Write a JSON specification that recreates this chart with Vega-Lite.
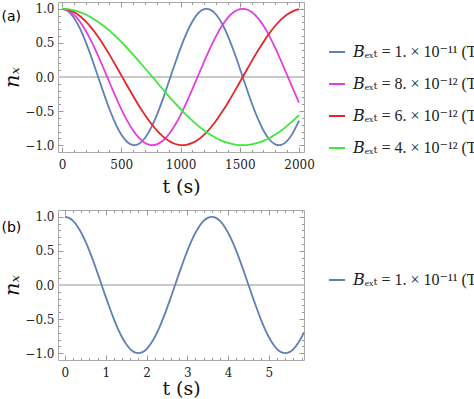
{
"$schema": "https://vega.github.io/schema/vega-lite/v6.json",
"padding": {"left": 0, "top": 1, "right": 0, "bottom": 0},
"background": "white",
"spacing": 12,
"config": {
 "font": "DejaVu Serif",
 "view": {"stroke": "#aaaaaa", "strokeWidth": 1},
 "axis": {"grid": false, "domain": false, "labelFont": "DejaVu Serif", "labelFontSize": 12, "labelColor": "#222222", "titleFont": "DejaVu Serif", "titleColor": "#111111", "titleFontWeight": "normal", "tickColor": "#999999", "tickWidth": 1},
 "legend": {"orient": "none", "title": null, "padding": 0, "symbolType": "stroke", "symbolStrokeWidth": 2, "symbolSize": 256, "labelFont": "Times New Roman, Liberation Serif, DejaVu Serif, serif", "labelFontSize": 16, "labelColor": "#222222", "labelLimit": 0, "rowPadding": 15, "labelOffset": 7}
},
"resolve": {"scale": {"color": "independent", "x": "independent", "y": "independent"}, "legend": {"color": "independent"}},
"datasets": {
 "a": [
  {"t":0,"n":1,"s":"1e-11"},{"t":50,"n":0.9670,"s":"1e-11"},{"t":100,"n":0.8703,"s":"1e-11"},{"t":150,"n":0.7161,"s":"1e-11"},{"t":200,"n":0.5148,"s":"1e-11"},{"t":250,"n":0.2795,"s":"1e-11"},{"t":300,"n":0.0257,"s":"1e-11"},{"t":350,"n":-0.2297,"s":"1e-11"},{"t":400,"n":-0.4700,"s":"1e-11"},{"t":450,"n":-0.6793,"s":"1e-11"},{"t":500,"n":-0.8438,"s":"1e-11"},{"t":550,"n":-0.9527,"s":"1e-11"},{"t":600,"n":-0.9987,"s":"1e-11"},{"t":650,"n":-0.9788,"s":"1e-11"},{"t":700,"n":-0.8945,"s":"1e-11"},{"t":750,"n":-0.7511,"s":"1e-11"},{"t":800,"n":-0.5582,"s":"1e-11"},{"t":850,"n":-0.3286,"s":"1e-11"},{"t":900,"n":-0.0772,"s":"1e-11"},{"t":950,"n":0.1793,"s":"1e-11"},{"t":1000,"n":0.4239,"s":"1e-11"},{"t":1050,"n":0.6406,"s":"1e-11"},{"t":1100,"n":0.8151,"s":"1e-11"},{"t":1150,"n":0.9358,"s":"1e-11"},{"t":1200,"n":0.9947,"s":"1e-11"},{"t":1250,"n":0.9881,"s":"1e-11"},{"t":1300,"n":0.9163,"s":"1e-11"},{"t":1350,"n":0.7841,"s":"1e-11"},{"t":1400,"n":0.6002,"s":"1e-11"},{"t":1450,"n":0.3767,"s":"1e-11"},{"t":1500,"n":0.1284,"s":"1e-11"},{"t":1550,"n":-0.1284,"s":"1e-11"},{"t":1600,"n":-0.3767,"s":"1e-11"},{"t":1650,"n":-0.6002,"s":"1e-11"},{"t":1700,"n":-0.7841,"s":"1e-11"},{"t":1750,"n":-0.9163,"s":"1e-11"},{"t":1800,"n":-0.9881,"s":"1e-11"},{"t":1850,"n":-0.9947,"s":"1e-11"},{"t":1900,"n":-0.9358,"s":"1e-11"},{"t":1950,"n":-0.8151,"s":"1e-11"},{"t":2000,"n":-0.6406,"s":"1e-11"},
  {"t":0,"n":1,"s":"8e-12"},{"t":50,"n":0.9788,"s":"8e-12"},{"t":100,"n":0.9163,"s":"8e-12"},{"t":150,"n":0.8151,"s":"8e-12"},{"t":200,"n":0.6793,"s":"8e-12"},{"t":250,"n":0.5148,"s":"8e-12"},{"t":300,"n":0.3286,"s":"8e-12"},{"t":350,"n":0.1284,"s":"8e-12"},{"t":400,"n":-0.0772,"s":"8e-12"},{"t":450,"n":-0.2795,"s":"8e-12"},{"t":500,"n":-0.4700,"s":"8e-12"},{"t":550,"n":-0.6406,"s":"8e-12"},{"t":600,"n":-0.7841,"s":"8e-12"},{"t":650,"n":-0.8945,"s":"8e-12"},{"t":700,"n":-0.9670,"s":"8e-12"},{"t":750,"n":-0.9987,"s":"8e-12"},{"t":800,"n":-0.9881,"s":"8e-12"},{"t":850,"n":-0.9358,"s":"8e-12"},{"t":900,"n":-0.8438,"s":"8e-12"},{"t":950,"n":-0.7161,"s":"8e-12"},{"t":1000,"n":-0.5582,"s":"8e-12"},{"t":1050,"n":-0.3767,"s":"8e-12"},{"t":1100,"n":-0.1793,"s":"8e-12"},{"t":1150,"n":0.0257,"s":"8e-12"},{"t":1200,"n":0.2297,"s":"8e-12"},{"t":1250,"n":0.4239,"s":"8e-12"},{"t":1300,"n":0.6002,"s":"8e-12"},{"t":1350,"n":0.7511,"s":"8e-12"},{"t":1400,"n":0.8703,"s":"8e-12"},{"t":1450,"n":0.9527,"s":"8e-12"},{"t":1500,"n":0.9947,"s":"8e-12"},{"t":1550,"n":0.9947,"s":"8e-12"},{"t":1600,"n":0.9527,"s":"8e-12"},{"t":1650,"n":0.8703,"s":"8e-12"},{"t":1700,"n":0.7511,"s":"8e-12"},{"t":1750,"n":0.6002,"s":"8e-12"},{"t":1800,"n":0.4239,"s":"8e-12"},{"t":1850,"n":0.2297,"s":"8e-12"},{"t":1900,"n":0.0257,"s":"8e-12"},{"t":1950,"n":-0.1793,"s":"8e-12"},{"t":2000,"n":-0.3767,"s":"8e-12"},
  {"t":0,"n":1,"s":"6e-12"},{"t":50,"n":0.9881,"s":"6e-12"},{"t":100,"n":0.9527,"s":"6e-12"},{"t":150,"n":0.8945,"s":"6e-12"},{"t":200,"n":0.8151,"s":"6e-12"},{"t":250,"n":0.7161,"s":"6e-12"},{"t":300,"n":0.6002,"s":"6e-12"},{"t":350,"n":0.4700,"s":"6e-12"},{"t":400,"n":0.3286,"s":"6e-12"},{"t":450,"n":0.1793,"s":"6e-12"},{"t":500,"n":0.0257,"s":"6e-12"},{"t":550,"n":-0.1284,"s":"6e-12"},{"t":600,"n":-0.2795,"s":"6e-12"},{"t":650,"n":-0.4239,"s":"6e-12"},{"t":700,"n":-0.5582,"s":"6e-12"},{"t":750,"n":-0.6793,"s":"6e-12"},{"t":800,"n":-0.7841,"s":"6e-12"},{"t":850,"n":-0.8703,"s":"6e-12"},{"t":900,"n":-0.9358,"s":"6e-12"},{"t":950,"n":-0.9788,"s":"6e-12"},{"t":1000,"n":-0.9987,"s":"6e-12"},{"t":1050,"n":-0.9947,"s":"6e-12"},{"t":1100,"n":-0.9670,"s":"6e-12"},{"t":1150,"n":-0.9163,"s":"6e-12"},{"t":1200,"n":-0.8438,"s":"6e-12"},{"t":1250,"n":-0.7511,"s":"6e-12"},{"t":1300,"n":-0.6406,"s":"6e-12"},{"t":1350,"n":-0.5148,"s":"6e-12"},{"t":1400,"n":-0.3767,"s":"6e-12"},{"t":1450,"n":-0.2297,"s":"6e-12"},{"t":1500,"n":-0.0772,"s":"6e-12"},{"t":1550,"n":0.0772,"s":"6e-12"},{"t":1600,"n":0.2297,"s":"6e-12"},{"t":1650,"n":0.3767,"s":"6e-12"},{"t":1700,"n":0.5148,"s":"6e-12"},{"t":1750,"n":0.6406,"s":"6e-12"},{"t":1800,"n":0.7511,"s":"6e-12"},{"t":1850,"n":0.8438,"s":"6e-12"},{"t":1900,"n":0.9163,"s":"6e-12"},{"t":1950,"n":0.9670,"s":"6e-12"},{"t":2000,"n":0.9947,"s":"6e-12"},
  {"t":0,"n":1,"s":"4e-12"},{"t":50,"n":0.9947,"s":"4e-12"},{"t":100,"n":0.9788,"s":"4e-12"},{"t":150,"n":0.9527,"s":"4e-12"},{"t":200,"n":0.9163,"s":"4e-12"},{"t":250,"n":0.8703,"s":"4e-12"},{"t":300,"n":0.8151,"s":"4e-12"},{"t":350,"n":0.7511,"s":"4e-12"},{"t":400,"n":0.6793,"s":"4e-12"},{"t":450,"n":0.6002,"s":"4e-12"},{"t":500,"n":0.5148,"s":"4e-12"},{"t":550,"n":0.4239,"s":"4e-12"},{"t":600,"n":0.3286,"s":"4e-12"},{"t":650,"n":0.2297,"s":"4e-12"},{"t":700,"n":0.1284,"s":"4e-12"},{"t":750,"n":0.0257,"s":"4e-12"},{"t":800,"n":-0.0772,"s":"4e-12"},{"t":850,"n":-0.1793,"s":"4e-12"},{"t":900,"n":-0.2795,"s":"4e-12"},{"t":950,"n":-0.3767,"s":"4e-12"},{"t":1000,"n":-0.4700,"s":"4e-12"},{"t":1050,"n":-0.5582,"s":"4e-12"},{"t":1100,"n":-0.6406,"s":"4e-12"},{"t":1150,"n":-0.7161,"s":"4e-12"},{"t":1200,"n":-0.7841,"s":"4e-12"},{"t":1250,"n":-0.8438,"s":"4e-12"},{"t":1300,"n":-0.8945,"s":"4e-12"},{"t":1350,"n":-0.9358,"s":"4e-12"},{"t":1400,"n":-0.9670,"s":"4e-12"},{"t":1450,"n":-0.9881,"s":"4e-12"},{"t":1500,"n":-0.9987,"s":"4e-12"},{"t":1550,"n":-0.9987,"s":"4e-12"},{"t":1600,"n":-0.9881,"s":"4e-12"},{"t":1650,"n":-0.9670,"s":"4e-12"},{"t":1700,"n":-0.9358,"s":"4e-12"},{"t":1750,"n":-0.8945,"s":"4e-12"},{"t":1800,"n":-0.8438,"s":"4e-12"},{"t":1850,"n":-0.7841,"s":"4e-12"},{"t":1900,"n":-0.7161,"s":"4e-12"},{"t":1950,"n":-0.6406,"s":"4e-12"},{"t":2000,"n":-0.5582,"s":"4e-12"}
 ],
 "b": [
  {"t":0,"n":1,"s":"1e-11"},{"t":0.1,"n":0.9848,"s":"1e-11"},{"t":0.2,"n":0.9397,"s":"1e-11"},{"t":0.3,"n":0.8660,"s":"1e-11"},{"t":0.4,"n":0.7660,"s":"1e-11"},{"t":0.5,"n":0.6428,"s":"1e-11"},{"t":0.6,"n":0.5,"s":"1e-11"},{"t":0.7,"n":0.3420,"s":"1e-11"},{"t":0.8,"n":0.1736,"s":"1e-11"},{"t":0.9,"n":0,"s":"1e-11"},{"t":1.0,"n":-0.1736,"s":"1e-11"},{"t":1.1,"n":-0.3420,"s":"1e-11"},{"t":1.2,"n":-0.5,"s":"1e-11"},{"t":1.3,"n":-0.6428,"s":"1e-11"},{"t":1.4,"n":-0.7660,"s":"1e-11"},{"t":1.5,"n":-0.8660,"s":"1e-11"},{"t":1.6,"n":-0.9397,"s":"1e-11"},{"t":1.7,"n":-0.9848,"s":"1e-11"},{"t":1.8,"n":-1,"s":"1e-11"},{"t":1.9,"n":-0.9848,"s":"1e-11"},{"t":2.0,"n":-0.9397,"s":"1e-11"},{"t":2.1,"n":-0.8660,"s":"1e-11"},{"t":2.2,"n":-0.7660,"s":"1e-11"},{"t":2.3,"n":-0.6428,"s":"1e-11"},{"t":2.4,"n":-0.5,"s":"1e-11"},{"t":2.5,"n":-0.3420,"s":"1e-11"},{"t":2.6,"n":-0.1736,"s":"1e-11"},{"t":2.7,"n":0,"s":"1e-11"},{"t":2.8,"n":0.1736,"s":"1e-11"},{"t":2.9,"n":0.3420,"s":"1e-11"},{"t":3.0,"n":0.5,"s":"1e-11"},{"t":3.1,"n":0.6428,"s":"1e-11"},{"t":3.2,"n":0.7660,"s":"1e-11"},{"t":3.3,"n":0.8660,"s":"1e-11"},{"t":3.4,"n":0.9397,"s":"1e-11"},{"t":3.5,"n":0.9848,"s":"1e-11"},{"t":3.6,"n":1,"s":"1e-11"},{"t":3.7,"n":0.9848,"s":"1e-11"},{"t":3.8,"n":0.9397,"s":"1e-11"},{"t":3.9,"n":0.8660,"s":"1e-11"},{"t":4.0,"n":0.7660,"s":"1e-11"},{"t":4.1,"n":0.6428,"s":"1e-11"},{"t":4.2,"n":0.5,"s":"1e-11"},{"t":4.3,"n":0.3420,"s":"1e-11"},{"t":4.4,"n":0.1736,"s":"1e-11"},{"t":4.5,"n":0,"s":"1e-11"},{"t":4.6,"n":-0.1736,"s":"1e-11"},{"t":4.7,"n":-0.3420,"s":"1e-11"},{"t":4.8,"n":-0.5,"s":"1e-11"},{"t":4.9,"n":-0.6428,"s":"1e-11"},{"t":5.0,"n":-0.7660,"s":"1e-11"},{"t":5.1,"n":-0.8660,"s":"1e-11"},{"t":5.2,"n":-0.9397,"s":"1e-11"},{"t":5.3,"n":-0.9848,"s":"1e-11"},{"t":5.4,"n":-1,"s":"1e-11"},{"t":5.5,"n":-0.9848,"s":"1e-11"},{"t":5.6,"n":-0.9397,"s":"1e-11"},{"t":5.7,"n":-0.8660,"s":"1e-11"},{"t":5.8,"n":-0.7660,"s":"1e-11"},{"t":5.86,"n":-0.6947,"s":"1e-11"}
 ]
},
"vconcat": [
 {
  "width": 246, "height": 150,
  "data": {"name": "a"},
  "resolve": {"axis": {"x": "independent", "y": "independent"}},
  "layer": [
   {"mark": {"type": "rule", "color": "#c8c8c8", "strokeWidth": 1.2},
    "encoding": {"y": {"datum": 0, "type": "quantitative", "scale": {"domain": [-1.1, 1.1], "nice": false, "zero": false},
      "axis": {"orient": "left", "values": [-1, -0.5, 0, 0.5, 1], "format": ".1f", "ticks": false, "labelPadding": 4, "labelFontSize": 12, "title": "nₓ", "titleFontStyle": "italic", "titleFontSize": 21, "titlePadding": 2}}}},
   {"mark": {"type": "line", "interpolate": "natural", "strokeWidth": 1.8},
    "encoding": {
     "x": {"field": "t", "type": "quantitative", "scale": {"domain": [-34, 2042], "nice": false, "zero": false},
       "axis": {"orient": "bottom", "values": [0, 500, 1000, 1500, 2000], "format": "d", "ticks": false, "labelPadding": 7, "labelFontSize": 12, "title": "t (s)", "titleFontSize": 19, "titlePadding": 7}},
     "y": {"field": "n", "type": "quantitative", "axis": {"orient": "left", "values": [-1, -0.5, 0, 0.5, 1], "tickSize": -5, "labels": false, "title": null}},
     "color": {"field": "s", "type": "nominal", "scale": {"domain": ["1e-11", "8e-12", "6e-12", "4e-12"], "range": ["#5e81b5", "#e23ee2", "#e4262a", "#3de83d"]},
       "legend": {"legendX": 270, "legendY": 41, "labelExpr": "datum.label == '1e-11' ? '𝐵ₑₓₜ = 1. × 10⁻¹¹ (T)' : datum.label == '8e-12' ? '𝐵ₑₓₜ = 8. × 10⁻¹² (T)' : datum.label == '6e-12' ? '𝐵ₑₓₜ = 6. × 10⁻¹² (T)' : '𝐵ₑₓₜ = 4. × 10⁻¹² (T)'"}}}},
   {"mark": {"type": "point", "opacity": 0},
    "encoding": {
     "x": {"field": "t", "type": "quantitative", "axis": {"orient": "bottom", "values": [0, 500, 1000, 1500, 2000], "tickSize": -5, "labels": false, "title": null}},
     "y": {"field": "n", "type": "quantitative", "axis": {"orient": "right", "values": [-1, -0.5, 0, 0.5, 1], "tickSize": -5, "labels": false, "title": null}}}},
   {"mark": {"type": "point", "opacity": 0},
    "encoding": {
     "x": {"field": "t", "type": "quantitative", "axis": {"orient": "top", "values": [0, 500, 1000, 1500, 2000], "tickSize": -5, "labels": false,
       "title": "(a)", "titleX": -57, "titleY": 18, "titleAngle": 0, "titleAlign": "left", "titleBaseline": "alphabetic", "titleFont": "DejaVu Sans", "titleFontSize": 14, "titleFontWeight": "normal", "titleColor": "#000000"}},
     "y": {"field": "n", "type": "quantitative", "axis": {"orient": "left", "values": [-0.9, -0.8, -0.7, -0.6, -0.4, -0.3, -0.2, -0.1, 0.1, 0.2, 0.3, 0.4, 0.6, 0.7, 0.8, 0.9], "tickSize": -2.5, "labels": false, "title": null}}}},
   {"mark": {"type": "point", "opacity": 0},
    "encoding": {
     "x": {"field": "t", "type": "quantitative", "axis": {"orient": "top", "values": [100, 200, 300, 400, 600, 700, 800, 900, 1100, 1200, 1300, 1400, 1600, 1700, 1800, 1900], "tickSize": -2.5, "labels": false, "title": null}},
     "y": {"field": "n", "type": "quantitative", "axis": {"orient": "right", "values": [-0.9, -0.8, -0.7, -0.6, -0.4, -0.3, -0.2, -0.1, 0.1, 0.2, 0.3, 0.4, 0.6, 0.7, 0.8, 0.9], "tickSize": -2.5, "labels": false, "title": null}}}},
   {"mark": {"type": "point", "opacity": 0},
    "encoding": {
     "x": {"field": "t", "type": "quantitative", "axis": {"orient": "bottom", "values": [100, 200, 300, 400, 600, 700, 800, 900, 1100, 1200, 1300, 1400, 1600, 1700, 1800, 1900], "tickSize": -2.5, "labels": false, "title": null}},
     "y": {"field": "n", "type": "quantitative", "axis": null}}}
  ]
 },
 {
  "width": 246, "height": 150,
  "data": {"name": "b"},
  "resolve": {"axis": {"x": "independent", "y": "independent"}},
  "layer": [
   {"mark": {"type": "rule", "color": "#c8c8c8", "strokeWidth": 1.2},
    "encoding": {"y": {"datum": 0, "type": "quantitative", "scale": {"domain": [-1.1, 1.1], "nice": false, "zero": false},
      "axis": {"orient": "left", "values": [-1, -0.5, 0, 0.5, 1], "format": ".1f", "ticks": false, "labelPadding": 4, "labelFontSize": 12, "title": "nₓ", "titleFontStyle": "italic", "titleFontSize": 21, "titlePadding": 2}}}},
   {"mark": {"type": "line", "interpolate": "natural", "strokeWidth": 1.8},
    "encoding": {
     "x": {"field": "t", "type": "quantitative", "scale": {"domain": [-0.17, 5.86], "nice": false, "zero": false},
       "axis": {"orient": "bottom", "values": [0, 1, 2, 3, 4, 5], "format": "d", "ticks": false, "labelPadding": 7, "labelFontSize": 12, "title": "t (s)", "titleFontSize": 19, "titlePadding": 1}},
     "y": {"field": "n", "type": "quantitative", "axis": {"orient": "left", "values": [-1, -0.5, 0, 0.5, 1], "tickSize": -5, "labels": false, "title": null}},
     "color": {"field": "s", "type": "nominal", "scale": {"domain": ["1e-11"], "range": ["#5e81b5"]},
       "legend": {"legendX": 270, "legendY": 61, "labelExpr": "'𝐵ₑₓₜ = 1. × 10⁻¹¹ (T)'"}}}},
   {"mark": {"type": "point", "opacity": 0},
    "encoding": {
     "x": {"field": "t", "type": "quantitative", "axis": {"orient": "bottom", "values": [0, 1, 2, 3, 4, 5], "tickSize": -5, "labels": false, "title": null}},
     "y": {"field": "n", "type": "quantitative", "axis": {"orient": "right", "values": [-1, -0.5, 0, 0.5, 1], "tickSize": -5, "labels": false, "title": null}}}},
   {"mark": {"type": "point", "opacity": 0},
    "encoding": {
     "x": {"field": "t", "type": "quantitative", "axis": {"orient": "top", "values": [0, 1, 2, 3, 4, 5], "tickSize": -5, "labels": false,
       "title": "(b)", "titleX": -57, "titleY": 21, "titleAngle": 0, "titleAlign": "left", "titleBaseline": "alphabetic", "titleFont": "DejaVu Sans", "titleFontSize": 14, "titleFontWeight": "normal", "titleColor": "#000000"}},
     "y": {"field": "n", "type": "quantitative", "axis": {"orient": "left", "values": [-0.9, -0.8, -0.7, -0.6, -0.4, -0.3, -0.2, -0.1, 0.1, 0.2, 0.3, 0.4, 0.6, 0.7, 0.8, 0.9], "tickSize": -2.5, "labels": false, "title": null}}}},
   {"mark": {"type": "point", "opacity": 0},
    "encoding": {
     "x": {"field": "t", "type": "quantitative", "axis": {"orient": "top", "values": [0.2, 0.4, 0.6, 0.8, 1.2, 1.4, 1.6, 1.8, 2.2, 2.4, 2.6, 2.8, 3.2, 3.4, 3.6, 3.8, 4.2, 4.4, 4.6, 4.8, 5.2, 5.4, 5.6, 5.8], "tickSize": -2.5, "labels": false, "title": null}},
     "y": {"field": "n", "type": "quantitative", "axis": {"orient": "right", "values": [-0.9, -0.8, -0.7, -0.6, -0.4, -0.3, -0.2, -0.1, 0.1, 0.2, 0.3, 0.4, 0.6, 0.7, 0.8, 0.9], "tickSize": -2.5, "labels": false, "title": null}}}},
   {"mark": {"type": "point", "opacity": 0},
    "encoding": {
     "x": {"field": "t", "type": "quantitative", "axis": {"orient": "bottom", "values": [0.2, 0.4, 0.6, 0.8, 1.2, 1.4, 1.6, 1.8, 2.2, 2.4, 2.6, 2.8, 3.2, 3.4, 3.6, 3.8, 4.2, 4.4, 4.6, 4.8, 5.2, 5.4, 5.6, 5.8], "tickSize": -2.5, "labels": false, "title": null}},
     "y": {"field": "n", "type": "quantitative", "axis": null}}}
  ]
 }
]
}
